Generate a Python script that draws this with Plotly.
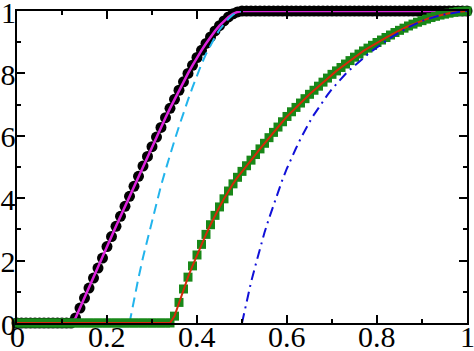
import plotly.graph_objects as go

# x grid (0.00 .. 1.00 step 0.01)
x_grid = [round(0.01 * i, 2) for i in range(101)]

# black circles / magenta line
y_black = [0.0] * 13 + [
    0.016, 0.048, 0.080, 0.112, 0.144, 0.176, 0.208, 0.245, 0.277, 0.310,
    0.342, 0.374, 0.406, 0.438, 0.470, 0.503, 0.534, 0.565, 0.596, 0.627,
    0.658, 0.688, 0.717, 0.746, 0.773, 0.800, 0.826, 0.851, 0.874, 0.896,
    0.917, 0.936, 0.953, 0.968, 0.981, 0.991, 0.997, 1.0,
] + [1.0] * 50

# light blue dashed curve (x from 0.25 to 0.50)
x_cyan = [round(0.25 + 0.01 * i, 2) for i in range(26)]
y_cyan = [0.0, 0.075, 0.145, 0.21, 0.27, 0.33, 0.385, 0.44, 0.49, 0.54,
          0.585, 0.63, 0.675, 0.715, 0.755, 0.795, 0.83, 0.862, 0.89, 0.916,
          0.94, 0.958, 0.975, 0.988, 0.996, 1.0]

# green squares / red line
y_green = [0.0] * 35 + [
    0.022, 0.066, 0.109, 0.147, 0.183, 0.218, 0.252, 0.284, 0.315, 0.345,
    0.372, 0.398, 0.423, 0.446, 0.467, 0.486, 0.504, 0.522, 0.540, 0.558,
    0.576, 0.594, 0.611, 0.628, 0.645, 0.662, 0.677, 0.691, 0.705, 0.719,
    0.733, 0.746, 0.759, 0.772, 0.785, 0.797, 0.808, 0.819, 0.830, 0.841,
    0.852, 0.862, 0.872, 0.881, 0.890, 0.899, 0.907, 0.915, 0.923, 0.931,
    0.938, 0.945, 0.952, 0.958, 0.964, 0.969, 0.974, 0.979, 0.983, 0.987,
    0.990, 0.993, 0.996, 0.998, 0.999, 1.000,
]

# blue dash-dot curve (x from 0.50 to 1.00)
x_blue = [round(0.5 + 0.01 * i, 2) for i in range(51)]
y_blue = [0.0, 0.07, 0.13, 0.185, 0.24, 0.29, 0.335, 0.378, 0.42, 0.46,
          0.496, 0.53, 0.56, 0.59, 0.618, 0.644, 0.668, 0.69, 0.711, 0.731,
          0.75, 0.767, 0.783, 0.798, 0.812, 0.825, 0.838, 0.85, 0.862, 0.873,
          0.884, 0.894, 0.904, 0.914, 0.923, 0.932, 0.94, 0.948, 0.955, 0.962,
          0.968, 0.973, 0.978, 0.982, 0.986, 0.989, 0.992, 0.995, 0.997, 0.999,
          1.0]

x_ticks = [0, 0.2, 0.4, 0.6, 0.8, 1]
x_tick_text = ["0", "0.2", "0.4", "0.6", "0.8", "1"]
y_ticks = [0, 0.2, 0.4, 0.6, 0.8, 1]
y_tick_text = ["0", "0.2", "0.4", "0.6", "0.8", "1"]

FONT = dict(family="Liberation Serif, Times New Roman, serif", size=30, color="black")

fig = go.Figure()
fig.add_trace(go.Scatter(x=x_grid, y=y_black, mode="markers",
                         marker=dict(symbol="circle", size=11, color="black"),
                         cliponaxis=False))
fig.add_trace(go.Scatter(x=x_grid, y=y_black, mode="lines",
                         line=dict(color="#dd22dd", width=2.5), cliponaxis=False))
fig.add_trace(go.Scatter(x=x_cyan, y=y_cyan, mode="lines",
                         line=dict(color="#22b4ec", width=2, dash="10px,6px"),
                         cliponaxis=False))
fig.add_trace(go.Scatter(x=x_grid, y=y_green, mode="markers",
                         marker=dict(symbol="square", size=9, color="#188818"),
                         cliponaxis=False))
fig.add_trace(go.Scatter(x=x_grid, y=y_green, mode="lines",
                         line=dict(color="#d42a0a", width=2), cliponaxis=False))
fig.add_trace(go.Scatter(x=x_blue, y=y_blue, mode="lines",
                         line=dict(color="#1010d8", width=2, dash="10px,5px,2px,5px"),
                         cliponaxis=False))

axis_common = dict(
    showgrid=False, zeroline=False, showline=True, linecolor="black", linewidth=2,
    mirror="allticks", ticks="inside", ticklen=8, tickwidth=2, tickcolor="black",
    automargin=False, showticklabels=False,
    minor=dict(ticks="inside", ticklen=4, tickwidth=2, tickcolor="black", dtick=0.1),
)

fig.update_xaxes(range=[0, 1], tickvals=x_ticks, **axis_common)
fig.update_yaxes(range=[0, 1], tickvals=y_ticks, **axis_common)

annotations = []
for v, t in zip(x_ticks, x_tick_text):
    annotations.append(dict(x=v, xref="x", y=0, yref="paper", text=t, showarrow=False,
                            xanchor="center", yanchor="top", yshift=5, font=FONT))
for v, t in zip(y_ticks, y_tick_text):
    annotations.append(dict(x=0, xref="paper", y=v, yref="y", text=t, showarrow=False,
                            xanchor="right", yanchor="middle", xshift=1, yshift=-1, font=FONT))

fig.update_layout(
    width=474, height=351,
    margin=dict(l=17, r=7, t=11, b=28, pad=0),
    paper_bgcolor="white", plot_bgcolor="white",
    showlegend=False,
    annotations=annotations,
)

fig.write_html("out.html")
